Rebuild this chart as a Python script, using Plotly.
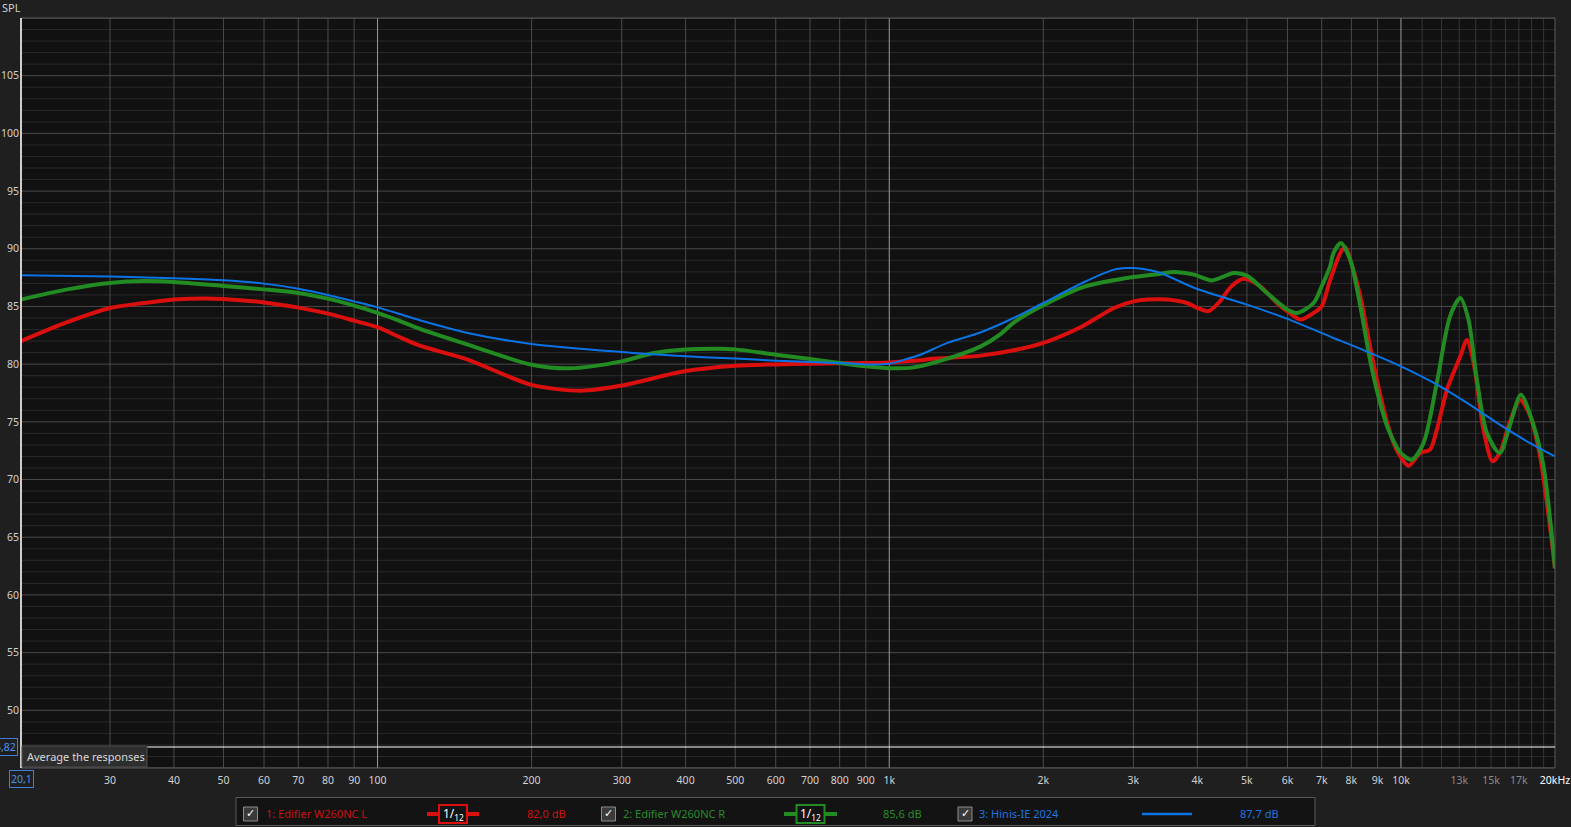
import math
import plotly.graph_objects as go

# ---------------- data ----------------
freq_L = [20.1, 24.6, 30, 35, 40, 46, 50, 60, 70, 80, 90, 100, 111, 121, 150, 200, 250, 300, 400, 500,
          600, 700, 800, 900, 1000, 1150, 1200, 1510, 1750, 2000, 2370, 2750, 3000, 3190, 3490, 3820,
          4000, 4210, 4440, 4650, 4930, 5310, 5720, 6000, 6360, 6750, 7000, 7270, 7670, 7800, 7960,
          8330, 8700, 9000, 9400, 9800, 10350, 10900, 11400, 11750, 12300, 13060, 13460, 13870,
          14500, 15100, 15600, 16300, 17100, 17900, 18700, 19400, 20000]
spl_L = [82.0, 83.6, 84.87, 85.3, 85.6, 85.7, 85.65, 85.35, 84.9, 84.38, 83.77, 83.2, 82.3, 81.6, 80.4,
         78.2, 77.7, 78.15, 79.4, 79.87, 79.98, 80.04, 80.07, 80.1, 80.15, 80.33, 80.45, 80.74, 81.2,
         81.84, 83.22, 84.87, 85.44, 85.6, 85.6, 85.3, 84.87, 84.6, 85.5, 86.7, 87.4, 86.75, 85.3,
         84.58, 83.86, 84.44, 85.0, 87.3, 89.9, 90.1, 89.05, 85.87, 81.54, 78.37, 74.9, 72.6, 71.2,
         72.3, 72.6, 74.3, 77.8, 80.68, 82.1, 80.1, 74.3, 71.58, 72.3, 74.9, 76.9, 75.48, 72.0, 67.1, 62.3]

freq_R = [20.1, 24.6, 30, 35, 40, 50, 60, 70, 80, 90, 100, 111, 121, 150, 200, 237, 300, 347, 400, 461,
          500, 600, 700, 800, 900, 1000, 1117, 1300, 1510, 1650, 1750, 2000, 2400, 2790, 3000, 3390,
          3600, 3940, 4270, 4710, 5000, 5470, 6000, 6260, 6750, 7000, 7270, 7380, 7630, 7960, 8330,
          8700, 9000, 9400, 10000, 10500, 11070, 11750, 12470, 13060, 13550, 14070, 14720, 15600,
          16300, 17150, 18100, 19000, 19600, 20000]
spl_R = [85.6, 86.46, 87.04, 87.2, 87.12, 86.78, 86.48, 86.17, 85.68, 85.07, 84.44, 83.71, 83.05, 81.69,
         79.95, 79.64, 80.24, 80.97, 81.28, 81.34, 81.28, 80.82, 80.45, 80.1, 79.81, 79.65, 79.72,
         80.48, 81.54, 82.6, 83.6, 85.1, 86.7, 87.32, 87.55, 87.84, 87.99, 87.76, 87.26, 87.9, 87.67,
         86.17, 84.72, 84.44, 85.3, 86.75, 88.47, 89.63, 90.5, 89.05, 85.01, 80.39, 77.5, 74.6, 72.3,
         71.72, 73.17, 78.37, 84.14, 85.74, 83.86, 78.66, 74.04, 72.3, 74.6, 77.35, 74.9, 71.1, 66.24,
         62.3]

freq_T = [20.1, 30, 40, 50, 60, 70, 80, 90, 100, 111, 121, 150, 200, 300, 400, 500, 600, 700, 800, 900,
          1000, 1070, 1150, 1300, 1510, 1750, 2000, 2400, 2750, 2920, 3000, 3240, 3390, 4000, 5000,
          6000, 7380, 7960, 10000, 11600, 13460, 15600, 18100, 20000]
spl_T = [87.7, 87.6, 87.44, 87.27, 86.98, 86.54, 86.0, 85.44, 84.92, 84.32, 83.8, 82.7, 81.75, 81.05,
         80.68, 80.48, 80.3, 80.19, 80.1, 79.98, 80.04, 80.39, 80.82, 81.84, 82.76, 84.0, 85.3, 87.1,
         88.19, 88.33, 88.33, 88.13, 87.9, 86.51, 85.16, 83.92, 82.27, 81.69, 79.81, 78.37, 76.64,
         74.76, 73.02, 72.0]

series_names = ["1: Edifier W260NC L", "2: Edifier W260NC R", "3: Hinis-IE 2024"]
series_levels = ["82,0 dB", "85,6 dB", "87,7 dB"]

x_tickvals = [30, 40, 50, 60, 70, 80, 90, 100, 200, 300, 400, 500, 600, 700, 800, 900, 1000,
              2000, 3000, 4000, 5000, 6000, 7000, 8000, 9000, 10000, 13000, 15000, 17000, 20000]
x_ticktext = ["30", "40", "50", "60", "70", "80", "90", "100", "200", "300", "400", "500", "600",
              "700", "800", "900", "1k", "2k", "3k", "4k", "5k", "6k", "7k", "8k", "9k", "10k",
              "<span style='color:#8a8a8a'>13k</span>", "<span style='color:#8a8a8a'>15k</span>",
              "<span style='color:#8a8a8a'>17k</span>", "<span style='color:#ffffff'>20kHz</span>"]
y_tickvals = [50, 55, 60, 65, 70, 75, 80, 85, 90, 95, 100, 105]

grid_mid = [30, 40, 50, 60, 70, 80, 90, 200, 300, 400, 500, 600, 700, 800, 900,
            2000, 3000, 4000, 5000, 6000, 7000, 8000, 9000]
grid_major = [100, 1000, 10000]
grid_fine = [11000, 12000, 13000, 14000, 15000, 16000, 17000, 18000, 19000]
hgrid_major = list(range(45, 111, 5))
hgrid_minor = [v for v in range(45, 111) if v % 5 != 0]

Y_MIN, Y_MAX = 45, 110
F_MIN, F_MAX = 20.1, 20000
cursor_db = 46.82

# ---------------- layout geometry ----------------
W, H = 1571, 827
ML, MR, MT, MB = 21, 16, 18, 59
PX0, PX1 = ML, W - MR
PY0, PY1 = MT, H - MB

def px(x):
    return (x - PX0) / (PX1 - PX0)

def py(y):
    return (PY1 - y) / (PY1 - PY0)

FONT = "Noto Sans, Open Sans, sans-serif"
RED, GREEN, BLUE = "#dc0f0f", "#228b22", "#0a74e6"

fig = go.Figure()

def vgrid(vals, color):
    xs, ys = [], []
    for v in vals:
        xs += [v, v, None]
        ys += [Y_MIN, Y_MAX, None]
    fig.add_trace(go.Scatter(x=xs, y=ys, mode="lines", line=dict(color=color, width=1),
                             hoverinfo="skip", showlegend=False))

def hgrid(vals, color):
    xs, ys = [], []
    for v in vals:
        xs += [F_MIN, F_MAX, None]
        ys += [v, v, None]
    fig.add_trace(go.Scatter(x=xs, y=ys, mode="lines", line=dict(color=color, width=1),
                             hoverinfo="skip", showlegend=False))

hgrid(hgrid_minor, "#2a2a2a")
vgrid(grid_fine, "#363636")
hgrid(hgrid_major, "#4a4a4a")
vgrid(grid_mid, "#4a4a4a")
vgrid(grid_major, "#9c9c9c")

fig.add_trace(go.Scatter(x=freq_L, y=spl_L, mode="lines", name=series_names[0],
                         line=dict(color=RED, width=4, shape="spline", smoothing=0.8), showlegend=False))
fig.add_trace(go.Scatter(x=freq_R, y=spl_R, mode="lines", name=series_names[1],
                         line=dict(color=GREEN, width=4, shape="spline", smoothing=0.8), showlegend=False))
fig.add_trace(go.Scatter(x=freq_T, y=spl_T, mode="lines", name=series_names[2],
                         line=dict(color=BLUE, width=2, shape="spline", smoothing=0.8), showlegend=False))

shapes = []
annotations = []

# plot border
shapes.append(dict(type="rect", xref="paper", yref="paper", x0=0, x1=1, y0=0, y1=1,
                   line=dict(color="#5a5a5a", width=1), layer="above"))
shapes.append(dict(type="line", xref="paper", yref="paper", x0=0, x1=0, y0=0, y1=1,
                   line=dict(color="#ffffff", width=1.5), layer="above"))
# cursor line
shapes.append(dict(type="line", xref="paper", yref="y", x0=0, x1=1, y0=cursor_db, y1=cursor_db,
                   line=dict(color="#ffffff", width=1), layer="above"))

# tooltip
shapes.append(dict(type="rect", xref="paper", yref="paper", x0=px(22), x1=px(147), y0=py(767), y1=py(746),
                   fillcolor="#2e2e2e", line=dict(color="#4e4e4e", width=1), layer="above"))
annotations.append(dict(xref="paper", yref="paper", x=px(25), y=py(756.5), xanchor="left", yanchor="middle",
                        text="Average the responses", showarrow=False,
                        font=dict(family=FONT, size=11, color="#d8d8d8")))

# SPL label
annotations.append(dict(xref="paper", yref="paper", x=px(0), y=py(8), xanchor="left", yanchor="middle",
                        text="SPL", showarrow=False, font=dict(family=FONT, size=11, color="#d0d0d0")))

# cursor readouts
annotations.append(dict(xref="paper", yref="paper", x=px(18), y=py(747), xanchor="right", yanchor="middle",
                        text="46,82", showarrow=False, bordercolor="#3d7fd9", borderwidth=1, borderpad=1,
                        font=dict(family=FONT, size=10.5, color="#4d90f0")))
annotations.append(dict(xref="paper", yref="paper", x=px(21), y=py(778.5), xanchor="center", yanchor="middle",
                        text="20,1", showarrow=False, bordercolor="#3d7fd9", borderwidth=1, borderpad=1,
                        font=dict(family=FONT, size=10.5, color="#4d90f0")))

# legend box
LY = 814
shapes.append(dict(type="rect", xref="paper", yref="paper", x0=px(236), x1=px(1315), y0=py(825.5), y1=py(797.5),
                   fillcolor="#131313", line=dict(color="#5a5a5a", width=1), layer="above"))

def checkbox(cx):
    shapes.append(dict(type="rect", xref="paper", yref="paper", x0=px(cx - 7), x1=px(cx + 7),
                       y0=py(LY + 7), y1=py(LY - 7), fillcolor="#3a3a3a",
                       line=dict(color="#8c8c8c", width=1), layer="above"))
    annotations.append(dict(xref="paper", yref="paper", x=px(cx), y=py(LY), xanchor="center", yanchor="middle",
                            text="✓", showarrow=False, font=dict(family="DejaVu Sans", size=11, color="#ffffff")))

def label(x, text, color):
    annotations.append(dict(xref="paper", yref="paper", x=px(x), y=py(LY), xanchor="left", yanchor="middle",
                            text=text, showarrow=False, font=dict(family=FONT, size=11, color=color)))

def sample(x0, x1, color, width, badge):
    shapes.append(dict(type="line", xref="paper", yref="paper", x0=px(x0), x1=px(x1), y0=py(LY), y1=py(LY),
                       line=dict(color=color, width=width), layer="above"))
    if badge:
        cx = (x0 + x1) / 2
        shapes.append(dict(type="rect", xref="paper", yref="paper", x0=px(cx - 14), x1=px(cx + 14),
                           y0=py(LY + 9), y1=py(LY - 9), fillcolor="#131313",
                           line=dict(color=color, width=2), layer="above"))
        annotations.append(dict(xref="paper", yref="paper", x=px(cx), y=py(LY), xanchor="center",
                                yanchor="middle", text="1/<sub>12</sub>", showarrow=False,
                                font=dict(family=FONT, size=12, color="#ffffff")))

checkbox(250.5)
label(264, series_names[0], "#cc1010")
sample(427, 479, RED, 4, True)
label(525, series_levels[0], "#cc1010")

checkbox(608.5)
label(621, series_names[1], "#2a8a2a")
sample(784, 837, GREEN, 4, True)
label(881, series_levels[1], "#2a8a2a")

checkbox(965)
label(977, series_names[2], "#1f74e0")
sample(1142, 1192, BLUE, 2.5, False)
label(1238, series_levels[2], "#1f74e0")

fig.update_layout(
    template="none",
    width=W, height=H,
    margin=dict(l=ML, r=MR, t=MT, b=MB, pad=0, autoexpand=False),
    paper_bgcolor="#1f1f1f", plot_bgcolor="#111111",
    showlegend=False,
    shapes=shapes, annotations=annotations,
    xaxis=dict(type="log", range=[math.log10(F_MIN), math.log10(F_MAX)], showgrid=False, zeroline=False,
               automargin=False, minor=dict(showgrid=False, ticks=""),
               tickmode="array", tickvals=x_tickvals, ticktext=x_ticktext, ticks="",
               ticklabelstandoff=4,
               tickfont=dict(family=FONT, size=10.5, color="#d2d2d2"), showline=False, fixedrange=True),
    yaxis=dict(range=[Y_MIN, Y_MAX], tickmode="array", tickvals=y_tickvals, ticks="", zeroline=False,
               automargin=False, showgrid=False, minor=dict(showgrid=False, ticks=""),
               ticklabelstandoff=1,
               tickfont=dict(family=FONT, size=10.5, color="#d2d2d2"), showline=False, fixedrange=True),
)

fig.write_html("out.html", config={"displayModeBar": False},
               post_script="document.body.style.margin='0';document.body.style.overflow='hidden';document.body.style.background='#1f1f1f';")
